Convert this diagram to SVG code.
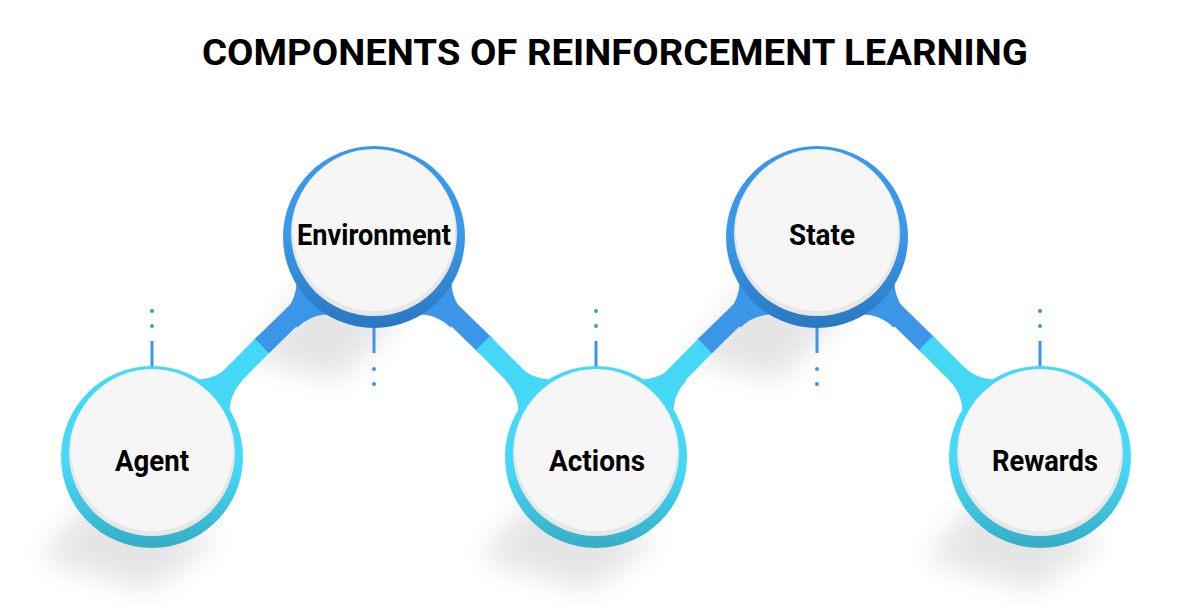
<svg xmlns="http://www.w3.org/2000/svg" width="1200" height="607" viewBox="0 0 1200 607">
<defs>
<style>
.lbl{font-family:Roboto,"Liberation Sans",sans-serif;font-weight:bold;font-size:30px;fill:#000;text-anchor:middle}
.lc{stroke:#45d8f6;stroke-width:20;fill:none}
.dc{stroke:#3b96e8;stroke-width:20;fill:none}
.dot{fill:#3b96e8}
</style>
<path id="fil" d="M80,-30 Q96,-10 118,-10 L118,10 Q96,10 80,30Z"/>
<linearGradient id="gl" x1="0" y1="0" x2="0" y2="1"><stop offset="0.55" stop-color="#46d9f7"/><stop offset="1" stop-color="#37adc7"/></linearGradient>
<linearGradient id="gd" x1="0" y1="0" x2="0" y2="1"><stop offset="0.5" stop-color="#3a98ea"/><stop offset="1" stop-color="#2a77c0"/></linearGradient>
<filter id="sh" x="-1" y="-1" width="3" height="3"><feGaussianBlur stdDeviation="14"/></filter>
</defs>
<rect width="1200" height="607" fill="#fff"/>
<text x="615" y="65" font-family="Roboto,'Liberation Sans',sans-serif" font-weight="bold" font-size="36" text-anchor="middle" textLength="826" lengthAdjust="spacingAndGlyphs">COMPONENTS OF REINFORCEMENT LEARNING</text>
<g id="shadows" fill="#000" opacity="0.1" filter="url(#sh)">
<path d="M90 500 L40 560 L150 590 L220 540Z"/>
<path d="M310 280 L250 360 L340 380 L400 320Z"/>
<path d="M530 500 L480 560 L590 590 L660 540Z"/>
<path d="M750 280 L690 360 L780 380 L840 320Z"/>
<path d="M975 500 L925 560 L1035 590 L1105 540Z"/>
</g>
<g id="connectors">
<line class="lc" x1="152" y1="457" x2="265" y2="343"/><line class="dc" x1="262" y1="346" x2="374" y2="237"/>
<line class="dc" x1="374" y1="237" x2="486" y2="346"/><line class="lc" x1="483" y1="343" x2="596" y2="457"/>
<line class="lc" x1="596" y1="457" x2="708" y2="343"/><line class="dc" x1="705" y1="346" x2="817" y2="237"/>
<line class="dc" x1="817" y1="237" x2="929" y2="346"/><line class="lc" x1="926" y1="343" x2="1040" y2="457"/>
<g fill="#45d8f6">
<use href="#fil" transform="translate(152 457) rotate(-45)"/>
<use href="#fil" transform="translate(596 457) rotate(-135)"/>
<use href="#fil" transform="translate(596 457) rotate(-45)"/>
<use href="#fil" transform="translate(1040 457) rotate(-135)"/>
</g>
<g fill="#3b96e8">
<use href="#fil" transform="translate(374 237) rotate(135)"/>
<use href="#fil" transform="translate(374 237) rotate(45)"/>
<use href="#fil" transform="translate(817 237) rotate(135)"/>
<use href="#fil" transform="translate(817 237) rotate(45)"/>
</g>
<g class="dot">
<rect x="150.5" y="341" width="3" height="26"/><circle cx="152" cy="326" r="2"/><circle cx="152" cy="311" r="2"/>
<rect x="372.5" y="328" width="3" height="25"/><circle cx="374" cy="369" r="2"/><circle cx="374" cy="384" r="2"/>
<rect x="594.5" y="341" width="3" height="26"/><circle cx="596" cy="326" r="2"/><circle cx="596" cy="311" r="2"/>
<rect x="815.5" y="328" width="3" height="25"/><circle cx="817" cy="369" r="2"/><circle cx="817" cy="384" r="2"/>
<rect x="1038.5" y="341" width="3" height="26"/><circle cx="1040" cy="326" r="2"/><circle cx="1040" cy="311" r="2"/>
</g>
</g>
<g id="agent"><circle cx="152" cy="457" r="91" fill="url(#gl)"/><circle cx="152" cy="453" r="83" fill="#e8e7e7"/><circle cx="152" cy="450" r="81" fill="#f7f6f6"/><text class="lbl" x="152" y="471" textLength="74" lengthAdjust="spacingAndGlyphs">Agent</text></g>
<g id="environment"><circle cx="374" cy="237" r="91" fill="url(#gd)"/><circle cx="374" cy="233" r="83" fill="#e8e7e7"/><circle cx="374" cy="230" r="81" fill="#f7f6f6"/><text class="lbl" x="374" y="245" textLength="154" lengthAdjust="spacingAndGlyphs">Environment</text></g>
<g id="actions"><circle cx="596" cy="457" r="91" fill="url(#gl)"/><circle cx="596" cy="453" r="83" fill="#e8e7e7"/><circle cx="596" cy="450" r="81" fill="#f7f6f6"/><text class="lbl" x="597" y="471" textLength="96" lengthAdjust="spacingAndGlyphs">Actions</text></g>
<g id="state"><circle cx="817" cy="237" r="91" fill="url(#gd)"/><circle cx="817" cy="233" r="83" fill="#e8e7e7"/><circle cx="817" cy="230" r="81" fill="#f7f6f6"/><text class="lbl" x="822" y="245" textLength="66" lengthAdjust="spacingAndGlyphs">State</text></g>
<g id="rewards"><circle cx="1040" cy="457" r="91" fill="url(#gl)"/><circle cx="1040" cy="453" r="83" fill="#e8e7e7"/><circle cx="1040" cy="450" r="81" fill="#f7f6f6"/><text class="lbl" x="1045" y="471" textLength="106" lengthAdjust="spacingAndGlyphs">Rewards</text></g>
</svg>
